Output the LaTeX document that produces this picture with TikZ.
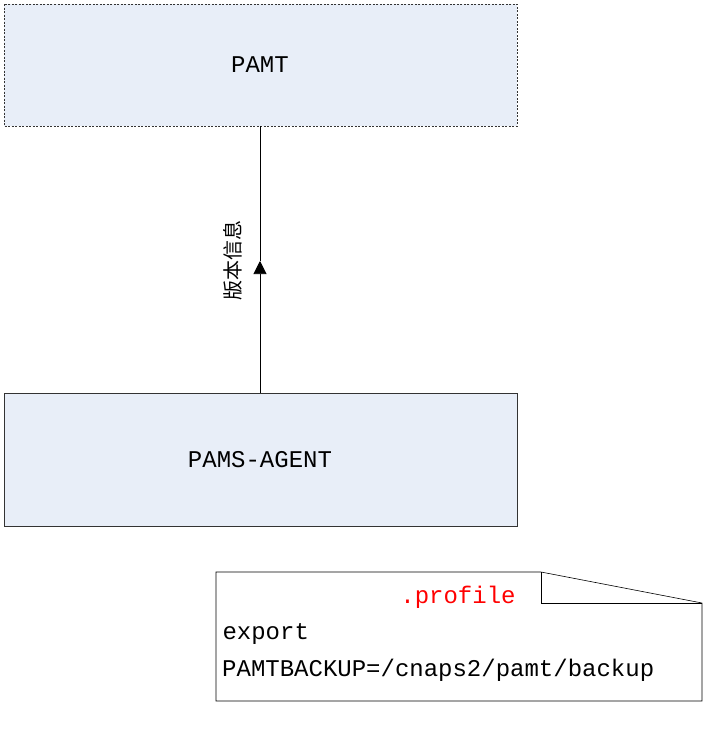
\documentclass[tikz,border=0pt]{standalone}
\usepackage{fontspec}
\setmainfont{Liberation Mono}
\newfontfamily\cjk{Noto Sans CJK SC}
\usetikzlibrary{arrows.meta}
\definecolor{boxfill}{HTML}{E8EEF8}
\begin{document}
\begin{tikzpicture}[x=1pt,y=-1pt,
  box/.style={draw=black!80,fill=boxfill,line width=0.6pt},
  txt/.style={font=\fontsize{24}{28}\selectfont}]
\useasboundingbox (0,0) rectangle (707,732);
\draw[box,dashed,dash pattern=on 2pt off 1.5pt] (4,4) rectangle (517,126);
\node[txt] (pamt) at (260,65) {PAMT};
\coordinate (pamtS) at (260,126);
\draw[box] (4,393) rectangle (517,526);
\node[txt] (agent) at (260,460) {PAMS-AGENT};
\coordinate (agentN) at (260,393);
\coordinate (m) at (260,261);
\draw[line width=0.6pt,-{Triangle[length=13pt,width=13pt]}] (agentN) -- (m);
\draw[line width=0.6pt] (m) -- (pamtS);
\node[rotate=90,font=\cjk\fontsize{20}{24}\selectfont] (lbl) at (233,260) {版本信息};
\draw[line width=0.6pt] (216,572) -- (541,572) -- (702,603) -- (702,701) -- (216,701) -- cycle;
\draw[line width=0.6pt] (541,572) -- (541,603) -- (702,603);
\node[txt,text=red] (prof) at (458,597) {.profile};
\node[txt,anchor=west] (exp) at (219,634) {export};
\node[txt,anchor=west,inner sep=0pt] (path) at (222,670) {PAMTBACKUP=/cnaps2/pamt/backup};
\end{tikzpicture}
\end{document}
